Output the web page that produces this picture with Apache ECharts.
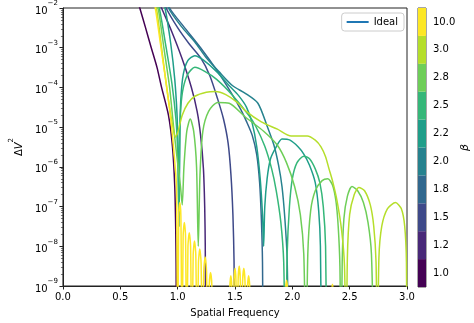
<!DOCTYPE html>
<html><head><meta charset="utf-8">
<script src="https://cdn.jsdelivr.net/npm/echarts@6/dist/echarts.min.js"></script>
<style>html,body{margin:0;padding:0;background:#fff;}#c{width:474px;height:323px;}</style>
</head><body><div id="c"></div>
<script>
// ---- tick labels / categories ----
const xTicks = [0, 0.5, 1.0, 1.5, 2.0, 2.5, 3.0];
const yMin = 1e-9, yMax = 1e-2;
const betaLabels = ['1.0','1.2','1.5','1.8','2.0','2.2','2.5','2.8','3.0','10.0'];

// ---- series values [spatial frequency, ΔV²] ----
const curve_1_0 = [[0.62,3.2e-2],[0.67,1e-2],[0.72,3.2e-3],[0.77,1e-3],[0.82,3.2e-4],[0.86,1e-4],[0.92,2e-5],[0.955,3.2e-6],[0.975,3.2e-7],[0.983,3.2e-8],[0.987,3.2e-9],[0.99,1e-11]];
const curve_1_2 = [[0.79,3.2e-2],[0.86,1e-2],[0.95,2.5e-3],[1.04,5.2e-4],[1.12,1e-4],[1.17,2.5e-5],[1.2,6.3e-6],[1.225,8.9e-7],[1.236,1e-7],[1.241,1e-8],[1.245,1e-11]];
const curve_1_5 = [[0.84,3.2e-2],[0.9,1e-2],[1.0,3.2e-3],[1.1,1.26e-3],[1.2,5.6e-4],[1.28,2e-4],[1.35,5e-5],[1.4,1.6e-5],[1.44,4e-6],[1.465,6.3e-7],[1.482,6.3e-8],[1.492,4e-9],[1.498,1e-11]];
const curve_1_8 = [[0.87,3.2e-2],[0.93,1e-2],[1.05,3.5e-3],[1.2,1e-3],[1.35,2.5e-4],[1.47,7.1e-5],[1.55,2.8e-5],[1.6,1.4e-5],[1.65,6.3e-6],[1.69,2e-6],[1.715,4e-7],[1.73,5e-8],[1.74,4e-9],[1.746,1e-11]];
const curve_2_0 = [[0.86,3.2e-2],[0.92,1e-2],[1.03,3.5e-3],[1.15,1.4e-3],[1.25,5.6e-4],[1.36,2.5e-4],[1.48,1.1e-4],[1.59,7.1e-5],[1.7,4e-5],[1.78,1.07e-5],[1.84,3.5e-6],[1.88,1.1e-6],[1.91,3.2e-7],[1.935,5e-8],[1.955,5e-9],[1.97,1e-11]];
const curve_2_2 = [[0.84,3.2e-2],[0.89,1e-2],[0.94,1.26e-3],[0.975,1.6e-4],[0.995,2e-5],[1.006,1.6e-6],[1.012,3.2e-8],[1.02,1e-5],[1.03,6.3e-5],[1.05,2.2e-4],[1.09,4.8e-4],[1.15,6.3e-4],[1.22,5e-4],[1.34,2.5e-4],[1.45,1.1e-4],[1.53,6.3e-5],[1.6,3.2e-5],[1.65,1.26e-5],[1.69,3.2e-6],[1.72,5e-7],[1.74,6.3e-8],[1.75,1e-8],[1.76,1e-7],[1.78,5e-7],[1.81,1.6e-6],[1.86,3.2e-6],[1.91,5e-6],[1.98,4.7e-6],[2.05,3.2e-6],[2.1,2.1e-6],[2.15,1.1e-6],[2.2,4e-7],[2.23,7.9e-8],[2.245,1e-8],[2.255,1e-11]];
const curve_2_5 = [[0.79,3.2e-2],[0.84,1e-2],[0.9,1e-3],[0.95,1.26e-4],[0.985,1.6e-5],[1.0,2.5e-6],[1.01,6.3e-8],[1.018,5e-6],[1.028,3.2e-5],[1.05,1e-4],[1.09,2.2e-4],[1.15,3.2e-4],[1.24,2.5e-4],[1.34,1.6e-4],[1.48,6.3e-5],[1.62,2e-5],[1.68,1.07e-5],[1.76,3.3e-6],[1.82,8.9e-7],[1.86,2.5e-7],[1.9,4e-8],[1.925,4e-9],[1.94,1e-11],[1.955,6.3e-9],[1.975,1e-7],[2.0,5e-7],[2.04,1.26e-6],[2.1,1.86e-6],[2.15,1.6e-6],[2.2,8.9e-7],[2.24,4e-7],[2.27,1e-7],[2.29,1e-8],[2.3,1e-11]];
const curve_2_8 = [[0.78,3.2e-2],[0.83,1e-2],[0.88,1e-3],[0.93,1e-4],[0.965,1e-5],[1.0,1.26e-6],[1.025,3.2e-7],[1.04,1.1e-7],[1.055,1e-6],[1.08,7.9e-6],[1.11,1.6e-5],[1.14,7.9e-6],[1.165,1e-6],[1.18,1e-8],[1.195,6.3e-7],[1.22,7.9e-6],[1.27,2.5e-5],[1.35,4.2e-5],[1.45,4e-5],[1.59,1.8e-5],[1.75,7.9e-6],[1.87,3.5e-6],[1.95,1.26e-6],[2.02,3.2e-7],[2.07,6.3e-8],[2.1,6.3e-9],[2.12,1e-11],[2.135,6.3e-9],[2.16,7.9e-8],[2.2,2.5e-7],[2.26,4.5e-7],[2.31,5e-7],[2.35,3.5e-7],[2.38,1.4e-7],[2.4,3.2e-8],[2.415,3.2e-9],[2.425,1e-11],[2.435,4e-9],[2.45,5e-8],[2.48,1.8e-7],[2.52,3.2e-7],[2.57,2.5e-7],[2.62,1.26e-7],[2.66,4e-8],[2.69,6.3e-9],[2.71,1e-11]];
const curve_3_0 = [[0.77,3.2e-2],[0.815,1e-2],[0.86,1e-3],[0.9,1.26e-4],[0.935,2.5e-5],[0.96,1e-5],[0.98,5.6e-6],[1.0,7.1e-6],[1.04,2e-5],[1.09,4e-5],[1.15,6e-5],[1.25,7.6e-5],[1.33,7.9e-5],[1.42,6.6e-5],[1.52,4.2e-5],[1.59,2.6e-5],[1.73,1.35e-5],[1.87,8.9e-6],[1.99,6e-6],[2.07,6e-6],[2.13,6e-6],[2.2,4.7e-6],[2.25,3.2e-6],[2.29,1.8e-6],[2.32,8.9e-7],[2.35,4.5e-7],[2.39,1.4e-7],[2.43,2.5e-8],[2.455,3.2e-9],[2.47,1e-11],[2.48,5e-9],[2.5,6.3e-8],[2.54,2e-7],[2.58,3e-7],[2.63,2.5e-7],[2.68,1.1e-7],[2.71,3.2e-8],[2.73,4e-9],[2.742,1e-11],[2.755,5e-9],[2.78,3.2e-8],[2.83,8.9e-8],[2.9,1.26e-7],[2.95,8.9e-8],[2.98,3.2e-8],[2.995,4e-9],[3.0,1e-11]];
const curve_10_0 = [[0.76,3.2e-2],[0.805,1e-2],[0.85,1.26e-3],[0.9,1.26e-4],[0.94,1.6e-5],[0.97,2e-6],[0.99,3.2e-7],[1.0,1e-11],
  [1.0095,5.6e-8],[1.019,1.26e-7],[1.0285,5.6e-8],[1.038,1e-11],
  [1.048,1.8e-8],[1.0585,4e-8],[1.069,1.8e-8],[1.079,1e-11],
  [1.09,1e-8],[1.1015,2.2e-8],[1.113,1e-8],[1.124,1e-11],
  [1.1355,6e-9],[1.147,1.35e-8],[1.1585,6e-9],[1.17,1e-11],
  [1.1815,3.8e-9],[1.193,8.5e-9],[1.2045,3.8e-9],[1.216,1e-11],
  [1.228,2.4e-9],[1.24,5.4e-9],[1.252,2.4e-9],[1.264,1e-11],
  [1.2755,1e-9],[1.287,2.2e-9],[1.2985,1e-9],[1.31,1e-11],
  [1.38,1e-11],[1.445,1e-11],
  [1.4545,7.9e-10],[1.464,1.8e-9],[1.4735,7.9e-10],[1.483,1e-11],
  [1.492,1.26e-9],[1.5005,2.8e-9],[1.509,1.26e-9],[1.518,1e-11],
  [1.5275,1.4e-9],[1.537,3.2e-9],[1.5465,1.4e-9],[1.556,1e-11],
  [1.5665,1.26e-9],[1.577,2.8e-9],[1.5875,1.26e-9],[1.598,1e-11],
  [1.6085,7.9e-10],[1.619,1.8e-9],[1.6295,7.9e-10],[1.64,1e-11],
  [1.9,1e-11],[1.93,1e-11],[1.94,6.3e-10],[1.95,1.4e-9],[1.96,6.3e-10],[1.97,1e-11],
  [2.3,1e-11],[2.33,1e-11],[2.34,5e-10],[2.35,1.1e-9],[2.36,5e-10],[2.37,1e-11],[3.0,1e-11]];

const curves = [curve_1_0, curve_1_2, curve_1_5, curve_1_8, curve_2_0, curve_2_2, curve_2_5, curve_2_8, curve_3_0, curve_10_0];
const betaColors = ['#440154','#482878','#3e4989','#31688e','#26828e','#1f9e89','#35b779','#6ece58','#b5de2b','#fde725'];

const FONT = 'DejaVu Sans';
const minorTicks = [];
for (let e = -9; e < -2; e++) for (let m = 2; m <= 9; m++) minorTicks.push(m * Math.pow(10, e));

const series = curves.map((d, i) => ({
  name: 'β=' + betaLabels[i], type: 'line', data: d, xAxisIndex: 0, yAxisIndex: 0,
  showSymbol: false, smooth: 0.25, clip: true, silent: true,
  lineStyle: { color: betaColors[i], width: 1.5 }, itemStyle: { color: betaColors[i] }, z: 2 + i
}));
series.push({ name: 'Ideal', type: 'line', data: [], xAxisIndex: 0, yAxisIndex: 0, showSymbol: false,
  lineStyle: { color: '#1f77b4', width: 1.5 }, itemStyle: { color: '#1f77b4' } });
series.push({ type: 'bar', xAxisIndex: 1, yAxisIndex: 2, barWidth: '100%', silent: true,
  data: betaLabels.map((b, i) => ({ value: 1, itemStyle: { color: betaColors[i] } })) });

const chart = echarts.init(document.getElementById('c'), null, { renderer: 'canvas' });
chart.setOption({
  animation: false,
  backgroundColor: '#fff',
  textStyle: { fontFamily: FONT },
  grid: [
    { left: 51, top: 8, width: 356, height: 279, show: true, borderColor: '#222', borderWidth: 1, backgroundColor: 'transparent' },
    { left: 418, top: 8, width: 8, height: 279, show: true, borderColor: '#222', borderWidth: 0.8, backgroundColor: 'transparent' }
  ],
  legend: {
    data: ['Ideal'], right: 70, top: 13, icon: 'rect', itemWidth: 22, itemHeight: 2, itemGap: 0,
    backgroundColor: 'rgba(255,255,255,0.8)', borderColor: '#ccc', borderWidth: 1, borderRadius: 3,
    padding: [4, 6, 4, 5], textStyle: { fontSize: 10, fontFamily: FONT, color: '#000' }
  },
  xAxis: [
    { type: 'value', gridIndex: 0, min: xTicks[0], max: xTicks[xTicks.length - 1], interval: 0.5,
      name: 'Spatial Frequency', nameLocation: 'middle', nameGap: 22,
      nameTextStyle: { fontSize: 10, fontFamily: FONT, color: '#000' },
      axisLine: { lineStyle: { color: '#222', width: 1 } },
      axisTick: { length: 3.5, lineStyle: { color: '#222' } },
      axisLabel: { fontSize: 10, fontFamily: FONT, color: '#000', margin: 6, formatter: v => v.toFixed(1) },
      splitLine: { show: false } },
    { type: 'value', gridIndex: 1, min: 0, max: 1, show: false }
  ],
  yAxis: [
    { type: 'log', gridIndex: 0, min: yMin, max: yMax, logBase: 10, interval: 1,
      name: '{d|Δ}{v|V}{s|2}', nameLocation: 'middle', nameGap: 37, nameRotate: 90,
      nameTextStyle: { rich: {
        d: { fontSize: 10, fontFamily: FONT, color: '#000', lineHeight: 16, verticalAlign: 'bottom' },
        v: { fontSize: 10, fontFamily: FONT, fontStyle: 'italic', color: '#000', lineHeight: 16, verticalAlign: 'bottom' },
        s: { fontSize: 7, fontFamily: FONT, color: '#000', lineHeight: 8, verticalAlign: 'top' } } },
      axisLine: { show: true, lineStyle: { color: '#222', width: 1 } },
      axisTick: { length: 3.5, lineStyle: { color: '#222' } },
      axisLabel: { margin: 5, fontFamily: FONT,
        formatter: v => '{b|10}{s|−' + (-Math.round(Math.log10(v))) + '}',
        rich: {
          b: { fontSize: 10, fontFamily: FONT, color: '#000', lineHeight: 16, verticalAlign: 'bottom' },
          s: { fontSize: 7, fontFamily: FONT, color: '#000', lineHeight: 8, verticalAlign: 'top' } } },
      splitLine: { show: false } },
    { type: 'log', gridIndex: 0, min: yMin, max: yMax, logBase: 10, position: 'left',
      axisLine: { show: false }, axisLabel: { show: false }, splitLine: { show: false },
      axisTick: { show: true, length: 2, lineStyle: { color: '#222', width: 0.6 }, customValues: minorTicks } },
    { type: 'category', gridIndex: 1, data: betaLabels, position: 'right',
      axisLine: { show: false },
      axisTick: { show: true, alignWithLabel: true, length: 3.5, lineStyle: { color: '#222' } },
      axisLabel: { fontSize: 10, fontFamily: FONT, color: '#000', margin: 7 },
      splitLine: { show: false } }
  ],
  graphic: [
    { type: 'text', left: 460, top: 144, rotation: Math.PI / 2,
      style: { text: 'β', fontSize: 11, fontStyle: 'italic', fontFamily: FONT, fill: '#000' } }
  ],
  series: series
});
</script></body></html>
